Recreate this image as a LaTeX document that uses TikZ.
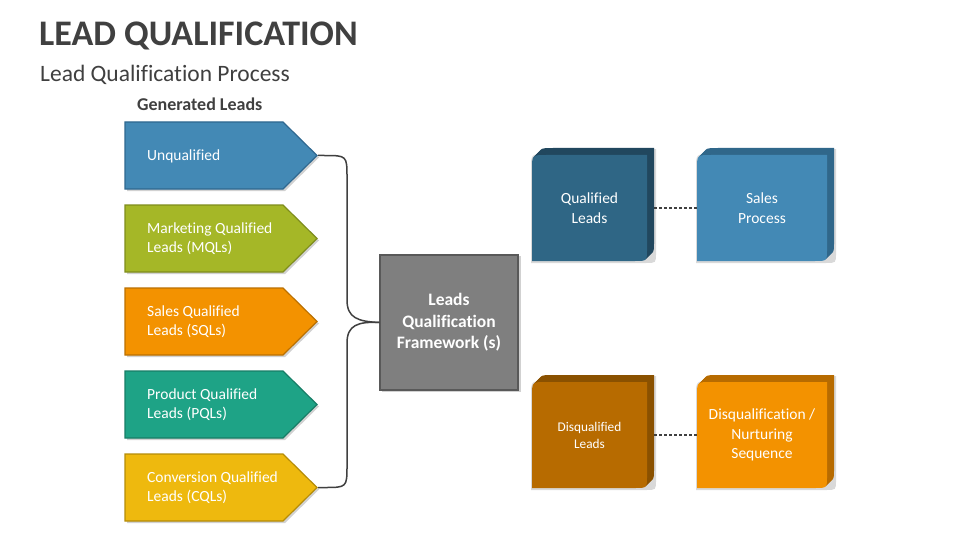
\documentclass[tikz,border=0pt]{standalone}
\usepackage{fontspec}
\setmainfont{Carlito}[Ligatures=NoCommon]
\usetikzlibrary{backgrounds,calc}
\definecolor{txtC}{HTML}{404040}
\definecolor{blueC}{HTML}{4389B5}
\definecolor{blueB}{HTML}{2F6890}
\definecolor{greenC}{HTML}{A5B727}
\definecolor{greenB}{HTML}{7F8D1C}
\definecolor{orangeC}{HTML}{F39200}
\definecolor{orangeB}{HTML}{BB7000}
\definecolor{tealC}{HTML}{1EA386}
\definecolor{tealB}{HTML}{177D66}
\definecolor{yellowC}{HTML}{EEB90E}
\definecolor{yellowB}{HTML}{B58C08}
\definecolor{qlF}{HTML}{2F6685}
\definecolor{qlB}{HTML}{21475E}
\definecolor{spB}{HTML}{30678A}
\definecolor{dqF}{HTML}{B76B00}
\definecolor{dqB}{HTML}{8A5100}
\definecolor{fwC}{HTML}{7F7F7F}
\definecolor{fwB}{HTML}{595959}
% chevron: fill, border, top y
\newcommand\chevshape[3]{%
  \fill[black,opacity=0.18] (127,#3+2) -- (285,#3+2) -- (319,#3+35.5) -- (285,#3+69) -- (127,#3+69) -- cycle;
  \filldraw[fill=#1,draw=#2,line width=1.2pt] (125,#3) -- (283,#3) -- (317,#3+33.5) -- (283,#3+67) -- (125,#3+67) -- cycle;}
% rounded 3d box: front, back, x0,y0,x1,y1
\newcommand\cubeshape[6]{%
  \fill[black,opacity=0.15] (#3-1,#6+2) -- (#3-1,#4+14) .. controls (#3-1,#4-1) .. (#3+14,#4-1) -- (#5+9,#4-6) -- (#5+9,#6-8) .. controls (#5+9,#6+2) .. (#5-1,#6+2) -- cycle;
  \foreach \k in {7,6,...,1}{%
  \fill[#2] (#3+\k,#6-\k) -- (#3+\k,#4-\k+14) .. controls (#3+\k,#4-\k) .. (#3+\k+14,#4-\k) -- (#5+\k,#4-\k) -- (#5+\k,#6-\k-12) .. controls (#5+\k,#6-\k) .. (#5+\k-12,#6-\k) -- cycle;}
  \fill[#1] (#3,#6) -- (#3,#4+14) .. controls (#3,#4) .. (#3+14,#4) -- (#5,#4) -- (#5,#6-12) .. controls (#5,#6) .. (#5-12,#6) -- cycle;}
\begin{document}
\begin{tikzpicture}[x=1pt,y=-1pt,
  lbl/.style={text=white,anchor=west,align=left,inner sep=0pt,font=\fontsize{15.5}{19}\selectfont},
  boxlbl/.style={text=white,align=center,inner sep=0pt,font=\fontsize{15.5}{19.5}\selectfont},
  conn/.style={draw=txtC,line width=1.5pt},
  dconn/.style={draw=txtC,line width=1.2pt,dash pattern=on 3pt off 2pt}]
\useasboundingbox (0,0) rectangle (960,540);
\fill[white] (0,0) rectangle (960,540);

\node[anchor=base west,inner sep=0pt,text=txtC,font=\fontsize{36}{40}\selectfont\bfseries] (title) at (39,46) {LEAD QUALIFICATION};
\node[anchor=base west,inner sep=0pt,text=txtC,font=\fontsize{23.5}{26}\selectfont] (sub) at (40,81.5) {Lead Qualification Process};
\node[anchor=base west,inner sep=0pt,text=txtC,font=\fontsize{18}{20}\selectfont\bfseries] (gen) at (137,110.5) {Generated Leads};

\chevshape{blueC}{blueB}{122}
\chevshape{greenC}{greenB}{205}
\chevshape{orangeC}{orangeB}{288}
\chevshape{tealC}{tealB}{371}
\chevshape{yellowC}{yellowB}{454}

\node[lbl] (c1) at (147,156) {Unqualified};
\node[lbl] (c2) at (147,239) {Marketing Qualified\\Leads (MQLs)};
\node[lbl] (c3) at (147,322) {Sales Qualified\\Leads (SQLs)};
\node[lbl] (c4) at (147,405) {Product Qualified\\Leads (PQLs)};
\node[lbl] (c5) at (147,488) {Conversion Qualified\\Leads (CQLs)};
\coordinate (t1) at (318,155.5);
\coordinate (t5) at (318,487.5);

% framework box
\fill[black,opacity=0.18] (382,256) rectangle (521,392);
\node[draw=fwB,fill=fwC,line width=1.2pt,minimum width=138pt,minimum height=135pt,inner sep=0pt,text=white,align=center,font=\fontsize{17.5}{21.5}\selectfont\bfseries] (fw) at (449,322.5) {Leads\\Qualification\\Framework (s)};

% brace
\draw[conn] (t1) -- (324,155.5) .. controls (347,155.5) .. (347,178) -- (347,300) .. controls (347,318) and (358,321.5) .. (fw.west);
\draw[conn] (fw.west) .. controls (358,321.5) and (347,325) .. (347,343) -- (347,465) .. controls (347,487.5) .. (324,487.5) -- (t5);

% right boxes
\cubeshape{qlF}{qlB}{532}{155}{647}{261}
\cubeshape{blueC}{spB}{697}{155}{827}{261}
\cubeshape{dqF}{dqB}{532}{382}{647}{488}
\cubeshape{orangeC}{dqF}{697}{382}{827}{488}

\node[boxlbl,minimum width=115pt,minimum height=106pt] (ql) at (589.5,208) {Qualified\\Leads};
\node[boxlbl,minimum width=130pt,minimum height=106pt] (sp) at (762,208) {Sales\\Process};
\node[boxlbl,minimum width=115pt,minimum height=106pt,font=\fontsize{13.3}{17}\selectfont] (dq) at (589.5,435) {Disqualified\\Leads};
\node[boxlbl,minimum width=130pt,minimum height=106pt] (ns) at (762,435) {Disqualification /\\Nurturing\\Sequence};

\begin{scope}[on background layer]
\draw[conn] (fw.north) |- (ql.west);
\draw[conn] (fw.south) |- (dq.west);
\end{scope}
\draw[dconn] ([xshift=7pt]ql.east) -- (sp.west);
\draw[dconn] ([xshift=7pt]dq.east) -- (ns.west);
\end{tikzpicture}
\end{document}
